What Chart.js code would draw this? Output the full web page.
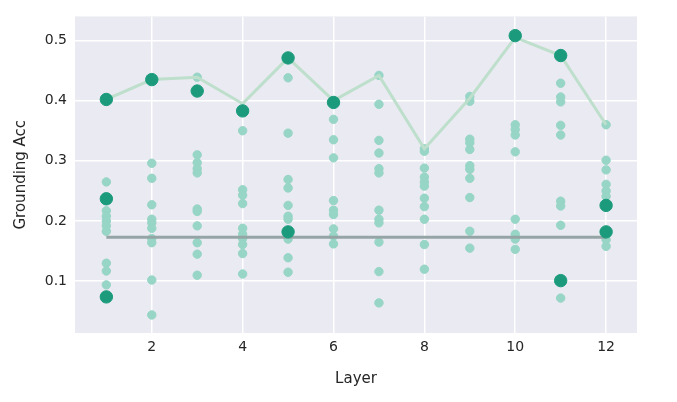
<!DOCTYPE html>
<html><head><meta charset="utf-8">
<script src="https://cdn.jsdelivr.net/npm/chart.js@4"></script>
<style>html,body{margin:0;padding:0;background:#fff}#w{width:677px;height:402px}</style>
</head><body><div id="w"><canvas id="c"></canvas></div>
<script>
const layers=[1,2,3,4,5,6,7,8,9,10,11,12];
const lightPts=[
[0.265,0.217,0.208,0.2,0.192,0.183,0.130,0.117,0.094],
[0.296,0.271,0.227,0.203,0.197,0.188,0.171,0.164,0.102,0.044],
[0.439,0.31,0.297,0.287,0.28,0.22,0.216,0.192,0.164,0.145,0.11],
[0.35,0.252,0.243,0.229,0.188,0.178,0.171,0.161,0.146,0.112],
[0.438,0.346,0.269,0.255,0.226,0.208,0.203,0.170,0.139,0.115],
[0.369,0.335,0.305,0.234,0.218,0.211,0.187,0.175,0.162],
[0.442,0.394,0.334,0.313,0.287,0.28,0.218,0.203,0.197,0.165,0.116,0.064],
[0.32,0.316,0.288,0.273,0.265,0.258,0.238,0.224,0.203,0.161,0.12],
[0.407,0.399,0.336,0.33,0.319,0.292,0.286,0.271,0.239,0.183,0.155],
[0.36,0.352,0.343,0.315,0.203,0.178,0.17,0.153],
[0.429,0.406,0.398,0.359,0.343,0.233,0.225,0.193,0.072],
[0.36,0.301,0.285,0.261,0.25,0.241,0.169,0.158]];
const darkPts=[[0.402,0.237,0.074],[0.435],[0.416],[0.383],[0.471,0.182],[0.397],[],[],[],[0.508],[0.475,0.101],[0.226,0.182]];
const bestAcc=[0.402,0.435,0.439,0.395,0.471,0.400,0.442,0.320,0.404,0.505,0.475,0.360];
const baseline=0.173;
const xTicks=[2,4,6,8,10,12];
const yTicks=[0.1,0.2,0.3,0.4,0.5];

const light=[],dark=[];
layers.forEach((l,i)=>{lightPts[i].forEach(v=>light.push({x:l,y:v}));darkPts[i].forEach(v=>dark.push({x:l,y:v}));});
const bgPlugin={id:'bg',beforeDraw(c){const a=c.chartArea,g=c.ctx;g.save();g.fillStyle='#eaeaf2';g.fillRect(a.left,a.top,a.right-a.left,a.bottom-a.top);g.restore();}};
new Chart(document.getElementById('c'),{
type:'scatter',
data:{datasets:[
{data:light,backgroundColor:'#97d5c6',borderColor:'#97d5c6',pointRadius:4.2,pointHoverRadius:4.2,order:3},
{type:'line',data:layers.map((l,i)=>({x:l,y:bestAcc[i]})),borderColor:'#bddfcb',borderWidth:3,pointRadius:0,fill:false,order:2},
{type:'line',data:[{x:1,y:baseline},{x:12,y:baseline}],borderColor:'#95a5a6',borderWidth:3,pointRadius:0,fill:false,order:2},
{data:dark,backgroundColor:'#1b9b7c',borderColor:'#1b9b7c',pointRadius:6.2,pointHoverRadius:6.2,order:1}
]},
options:{responsive:true,maintainAspectRatio:false,animation:false,
layout:{padding:{left:0,right:40,top:15,bottom:0}},
plugins:{legend:{display:false},tooltip:{enabled:false}},
scales:{
x:{type:'linear',min:0.31,max:12.68,afterFit(s){s.height=69;},afterBuildTicks(s){s.ticks=xTicks.map(v=>({value:v}));},
grid:{color:'#ffffff',lineWidth:1.5,drawTicks:false},border:{display:false},
ticks:{color:'#262626',font:{family:'DejaVu Sans',size:14},padding:6},
title:{display:true,text:'Layer',color:'#262626',font:{family:'DejaVu Sans',size:15},padding:{top:4,bottom:14}}},
y:{min:0.014,max:0.54,afterFit(s){s.width=75;},afterBuildTicks(s){s.ticks=yTicks.map(v=>({value:v}));},
grid:{color:'#ffffff',lineWidth:1.5,drawTicks:false},border:{display:false},
ticks:{color:'#262626',font:{family:'DejaVu Sans',size:14},padding:8,callback:v=>v.toFixed(1)},
title:{display:true,text:'Grounding Acc',color:'#262626',font:{family:'DejaVu Sans',size:15},padding:{top:12,bottom:4}}}
}},
plugins:[bgPlugin]});
</script></body></html>
